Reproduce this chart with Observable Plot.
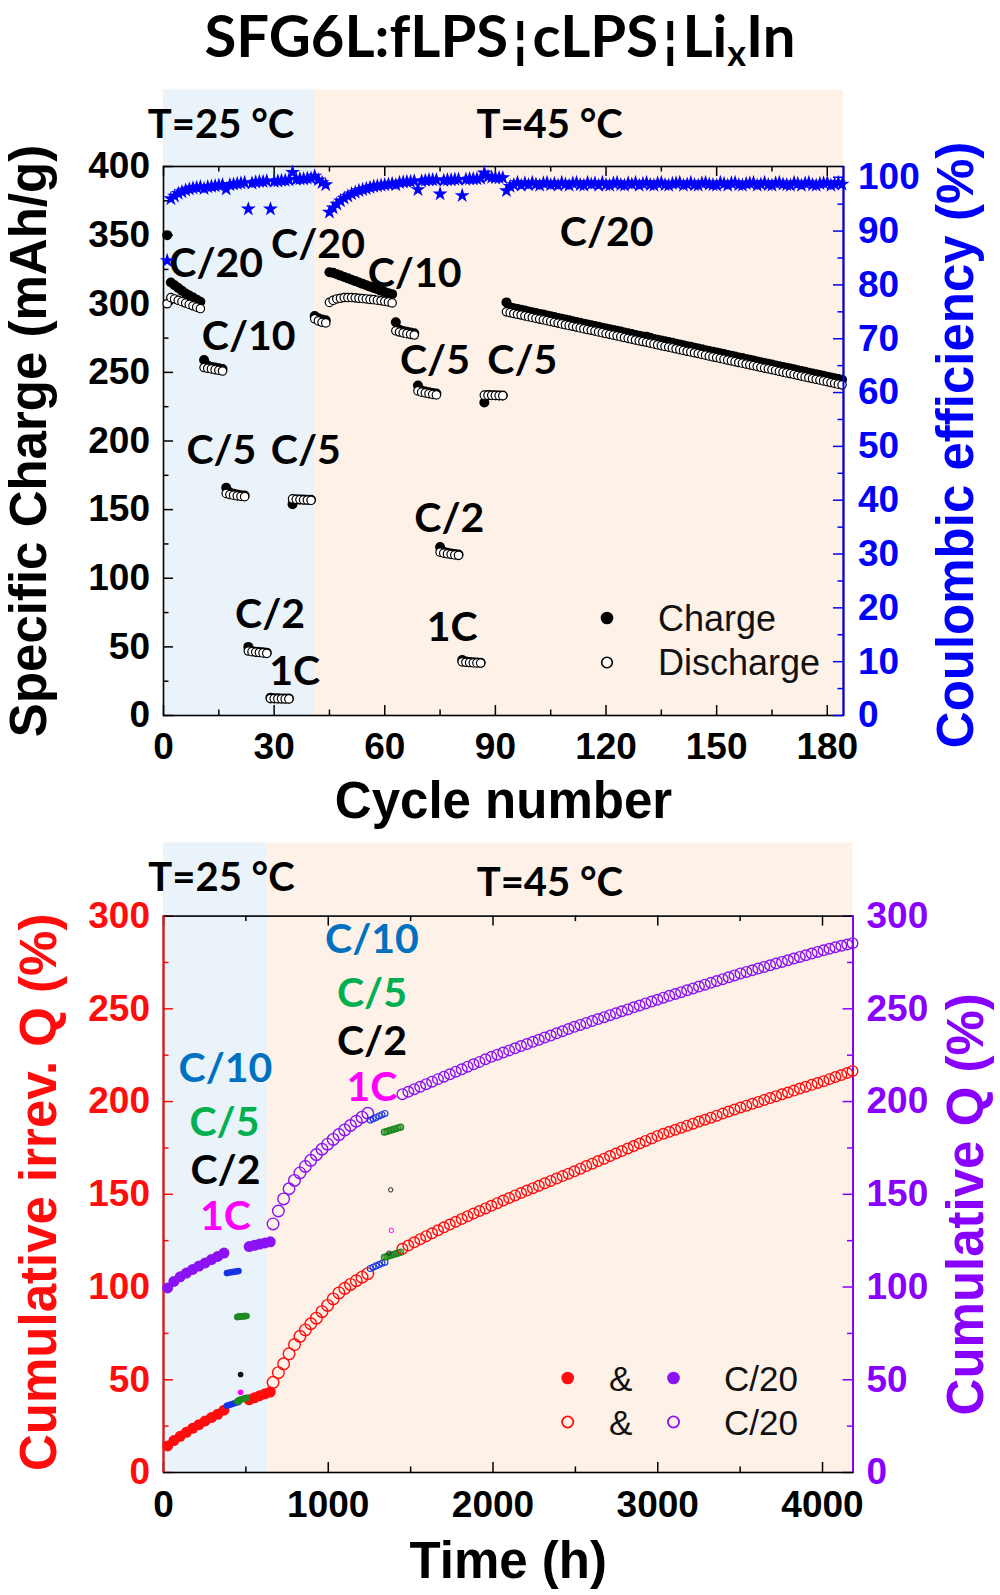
<!DOCTYPE html>
<html>
<head>
<meta charset="utf-8">
<script src="https://cdn.jsdelivr.net/npm/d3@7"></script>
<script src="https://cdn.jsdelivr.net/npm/@observablehq/plot@0.6"></script>
<style>
  html, body { margin: 0; padding: 0; background: #ffffff; }
  #page { position: relative; width: 1000px; height: 1595px; overflow: hidden; }
  #page svg { position: absolute; left: 0; top: 0; }
  .title {
    position: absolute; left: 0; top: 0; width: 1000px; text-align: center;
    font-family: Lato, "Open Sans", sans-serif; font-weight: bold; font-size: 58px; line-height: normal;
    color: #000;
  }
  .title .bar { font-family: "DejaVu Sans", sans-serif; font-weight: bold; font-size: 0.9em; margin: 0 0.05em; }
  .title sub { font-size: 0.62em; vertical-align: -0.24em; line-height: 0; }
</style>
</head>
<body>
<div id="page">
  <div class="title">SFG6L:fLPS<span class="bar">¦</span>cLPS<span class="bar">¦</span>Li<sub>x</sub>In</div>
</div>
<script>
// ---------------------------------------------------------------------------
// Upper panel: specific charge / discharge capacity and coulombic efficiency
// per cycle (cycle n is element n-1).
// ---------------------------------------------------------------------------
const chargeCapacity = [
  // C/20, 25 °C
  350, 315.5, 313.5, 311.5, 309.5, 307.5, 306, 304.5, 303, 301.5,
  // C/10
  259, 255, 254, 253.5, 253, 252.5,
  // C/5
  166, 162.5, 161.5, 161, 160.5, 160.3,
  // C/2
  50, 47, 46.5, 46.2, 46, 45.8,
  // 1C
  13, 12.6, 12.5, 12.4, 12.3, 12.3,
  // C/5
  154, 157.4, 157.4, 157.3, 157.2, 157.2,
  // C/20, 45 °C
  291, 289.5, 288.5, 288,
  323, 322.5, 321.5, 320.5, 319.5, 318.5, 317.5, 316.5, 315.5, 314.5,
  313.5, 312.5, 311.5, 310.5, 309.5, 308.5, 307.7, 307,
  // C/10
  286.5, 281, 280.2, 279.6, 279, 278.5,
  // C/5
  240.5, 236.8, 236, 235.5, 235, 234.6,
  // C/2
  122.7, 119.3, 118.6, 118.1, 117.7, 117.3,
  // 1C
  40.5, 39.3, 39, 38.8, 38.6, 38.5,
  // C/5
  228, 233.5, 233.4, 233.3, 233.2, 233.1,
  // C/20 long-term
  301.0, 297.4, 296.7, 296.1, 295.6, 295.0, 294.4, 293.8, 293.2, 292.6,
  292.1, 291.5, 290.9, 290.3, 289.7, 289.1, 288.5, 287.9, 287.3, 286.7,
  286.1, 285.5, 284.9, 284.4, 283.8, 283.2, 282.6, 282.0, 281.4, 280.8,
  280.3, 279.7, 279.1, 278.5, 277.9, 277.3, 276.7, 276.2, 275.9, 275.2,
  274.4, 273.8, 273.2, 272.6, 272.1, 271.5, 270.9, 270.3, 269.7, 269.1,
  268.6, 268.0, 267.4, 266.8, 266.2, 265.6, 265.0, 264.5, 263.9, 263.3,
  262.7, 262.1, 261.5, 260.9, 260.4, 259.8, 259.2, 258.6, 258.0, 257.4,
  256.8, 256.3, 255.7, 255.1, 254.5, 253.9, 253.3, 252.8, 252.2, 251.6,
  251.0, 250.4, 249.8, 249.2, 248.7, 248.1, 247.5, 246.9, 246.3, 245.7,
  245.1, 244.6
];

const dischargeCapacity = [
  300, 304.5, 303.5, 302.5, 301.5, 300.5, 299.5, 298.5, 297.5, 296.5,
  253.5, 253, 252.5, 252, 251.5, 251,
  161.8, 161, 160.5, 160, 159.7, 159.4,
  47, 46.5, 46.2, 45.9, 45.6, 45.3,
  12.3, 12.3, 12.2, 12.2, 12.1, 12.1,
  157.8, 157.5, 157.3, 157.1, 157, 156.8,
  289, 287.5, 286.5, 286,
  301, 302.5, 303.5, 304, 304.5, 304.5, 304.5, 304.3, 304, 303.8,
  303.5, 303.2, 303, 302.6, 302.2, 301.8, 301.3, 300.6,
  280.3, 279.4, 278.8, 278.2, 277.7, 277.2,
  236.5, 235.6, 235, 234.5, 234, 233.6,
  119, 118.3, 117.8, 117.4, 117, 116.7,
  39.1, 38.8, 38.6, 38.4, 38.3, 38.2,
  233.4, 233.4, 233.3, 233.2, 233.1, 233,
  294.1, 293.5, 292.9, 292.3, 291.8, 291.2, 290.6, 290.0, 289.4, 288.8,
  288.3, 287.7, 287.1, 286.5, 285.9, 285.3, 284.7, 284.2, 283.6, 283.0,
  282.4, 281.8, 281.2, 280.7, 280.1, 279.5, 278.9, 278.3, 277.7, 277.1,
  276.6, 276.0, 275.4, 274.8, 274.2, 273.6, 273.0, 272.5, 271.9, 271.3,
  270.7, 270.1, 269.5, 268.9, 268.4, 267.8, 267.2, 266.6, 266.0, 265.4,
  264.9, 264.3, 263.7, 263.1, 262.5, 261.9, 261.3, 260.8, 260.2, 259.6,
  259.0, 258.4, 257.8, 257.2, 256.7, 256.1, 255.5, 254.9, 254.3, 253.7,
  253.1, 252.6, 252.0, 251.4, 250.8, 250.2, 249.6, 249.1, 248.5, 247.9,
  247.3, 246.7, 246.1, 245.5, 245.0, 244.4, 243.8, 243.2, 242.6, 242.0,
  241.4, 240.9
];

const coulombicEfficiency = [
  84.5, 96.0, 96.5, 97.0, 97.3, 97.6, 97.8, 98.0, 98.1, 98.2,
  97.9, 98.2, 98.3, 98.4, 98.5, 98.6,
  97.8, 98.6, 98.7, 98.8, 98.9, 99.0,
  94.1, 98.9, 99.1, 99.2, 99.2, 99.3,
  94.1, 99.2, 99.3, 99.4, 99.4, 99.5,
  100.9, 99.6, 99.7, 99.7, 99.8, 99.8,
  100.2, 99.5, 99.0, 98.6,
  93.5, 94.3, 95.0, 95.6, 96.1, 96.5, 96.9, 97.2, 97.5, 97.7,
  97.9, 98.1, 98.3, 98.4, 98.5, 98.6, 98.7, 98.8,
  98.6, 99.0, 99.1, 99.2, 99.2, 99.3,
  97.7, 99.3, 99.4, 99.5, 99.5, 99.5,
  96.9, 99.4, 99.5, 99.5, 99.6, 99.6,
  96.6, 99.6, 99.7, 99.7, 99.7, 99.8,
  100.8, 100.1, 100.0, 99.9, 99.9, 99.9,
  97.5,
  98.3, 98.6, 99.0, 98.5, 98.9, 98.6, 99.0, 98.7, 98.5, 98.9,
  99.0, 98.6, 98.8, 98.5, 99.0, 98.7, 98.5, 98.9, 99.0, 98.6,
  98.5, 99.0, 98.7, 98.9, 98.5, 99.0, 98.6, 98.5, 98.9, 99.0,
  98.6, 98.5, 98.9, 98.7, 99.0, 98.5, 98.8, 99.0, 98.6, 98.5,
  98.9, 99.0, 98.6, 98.5, 98.8, 98.9, 99.0, 98.5, 98.7, 99.0,
  98.6, 98.5, 98.9, 99.0, 98.7, 98.6, 98.5, 99.0, 98.8, 98.5,
  98.9, 99.0, 98.6, 98.5, 98.8, 98.9, 99.0, 98.5, 98.7, 99.0,
  98.6, 98.5, 98.9, 99.0, 98.7, 98.6, 98.5, 99.0, 98.8, 98.5,
  98.9, 99.0, 98.6, 98.5, 98.8, 98.9, 99.0, 98.5, 98.7, 99.0,
  98.7
];

const cycleDomain = [0, 184.4];
const capacityDomain = [0, 400];
const efficiencyDomain = [0, 102];
const cycleSwitchTo45 = 41;          // first cycle at 45 °C
const cycleTicks = [0, 30, 60, 90, 120, 150, 180];
const cycleMinorTicks = [15, 45, 75, 105, 135, 165];
const capacityTicks = [0, 50, 100, 150, 200, 250, 300, 350, 400];
const capacityMinorTicks = [25, 75, 125, 175, 225, 275, 325, 375];
const efficiencyTicks = [0, 10, 20, 30, 40, 50, 60, 70, 80, 90, 100];
const efficiencyMinorTicks = [5, 15, 25, 35, 45, 55, 65, 75, 85, 95];

// ---------------------------------------------------------------------------
// Lower panel: cumulative irreversible charge and cumulative charge vs time.
// Filled markers 25 °C, open markers 45 °C, colour = C-rate.
// ---------------------------------------------------------------------------
// 25 °C
const time25C20 = [25, 63, 101, 139, 177, 215, 253, 291, 329, 367, 520, 552, 584, 616, 648];
const irrev25C20 = [14.3, 17.2, 19.5, 21.7, 23.8, 25.8, 27.8, 29.6, 31.4, 33.6, 39.2, 40.3, 41.4, 42.4, 43.4];
const cum25C20 = [99.5, 103, 105.5, 107.5, 109.5, 111.3, 113, 114.8, 116.5, 118.3, 121.8, 122.5, 123.2, 123.8, 124.4];
const time25C10 = [385, 399, 413, 427, 441, 455];
const irrev25C10 = [36, 36.4, 36.8, 37.2, 37.6, 38];
const cum25C10 = [107.5, 107.8, 108, 108.2, 108.4, 108.6];
const time25C5 = [448, 452, 456, 460, 464, 468, 474, 480, 486, 492, 498, 504];
const irrev25C5 = [38.3, 38.5, 38.7, 38.9, 39.1, 39.3, 39.4, 39.6, 39.8, 40, 40.2, 40.3];
const cum25C5 = [83.8, 83.9, 84, 84, 84.1, 84.1, 84.2, 84.2, 84.3, 84.3, 84.4, 84.4];
const time25C2 = [468];
const value25C2 = [52.8];
const time25C1 = [468];
const value25C1 = [43.3];

// 45 °C
const time45C20a = [665, 697, 729, 762, 795, 828, 861, 894, 928, 962, 996, 1030, 1065, 1100, 1135, 1170, 1205, 1240];
const irrev45C20a = [48.6, 53.8, 58.6, 64, 69, 73.4, 76.9, 80.2, 83.2, 86.7, 90.1, 93.6, 96.8, 99.3, 101.4, 103.4, 105.3, 107.2];
const cum45C20a = [134, 141, 147.5, 153, 157.5, 161.5, 165, 168.3, 171.4, 174.3, 177, 179.6, 182.2, 184.7, 187.1, 189.4, 191.6, 193.7];
const time45C10 = [1255, 1272, 1290, 1308, 1326, 1344];
const irrev45C10 = [110, 110.7, 111.4, 112.1, 112.8, 113.4];
const cum45C10 = [190, 190.7, 191.4, 192.2, 192.9, 193.6];
const time45C5 = [1340, 1349, 1358, 1367, 1376, 1385, 1395, 1404, 1413, 1422, 1431, 1440];
const irrev45C5 = [116, 116.3, 116.5, 116.8, 117, 117.3, 117.5, 117.8, 118, 118.3, 118.5, 118.8];
const cum45C5 = [183.5, 183.7, 184, 184.2, 184.5, 184.7, 185, 185.2, 185.5, 185.7, 186, 186.2];
const time45C2 = [1379, 1368];
const value45C2 = [152.4, 118.3];
const time45C1 = [1383];
const value45C1 = [130.5];
const time45C20b = [
  1450, 1486, 1522, 1558, 1594, 1630, 1666, 1702, 1738, 1774, 1810, 1846, 1882, 1918, 1954, 1990,
  2026, 2062, 2098, 2134, 2170, 2206, 2242, 2278, 2314, 2350, 2386, 2422, 2458, 2494, 2530, 2566,
  2602, 2638, 2674, 2710, 2746, 2782, 2818, 2854, 2890, 2926, 2962, 2998, 3034, 3070, 3106, 3142,
  3178, 3214, 3250, 3286, 3322, 3358, 3394, 3430, 3466, 3502, 3538, 3574, 3610, 3646, 3682, 3718,
  3754, 3790, 3826, 3862, 3898, 3934, 3970, 4006, 4042, 4078, 4114, 4150, 4182
];
const irrev45C20b = [
  120.6, 122.4, 124.1, 125.8, 127.4, 129.0, 130.6, 132.2, 133.7, 135.2, 136.7, 138.2, 139.6, 141.0, 142.4, 143.8,
  145.2, 146.6, 148.0, 149.4, 150.7, 152.0, 153.3, 154.6, 155.9, 157.2, 158.5, 159.8, 161.1, 162.4, 163.8, 165.2,
  166.5, 167.9, 169.2, 170.6, 172.0, 173.3, 174.7, 176.0, 177.4, 178.8, 180.1, 181.5, 182.6, 183.7, 184.8, 185.9,
  187.0, 188.1, 189.2, 190.2, 191.3, 192.4, 193.5, 194.6, 195.7, 196.8, 197.8, 198.8, 199.8, 200.9, 201.9, 202.9,
  203.9, 204.9, 205.9, 207.0, 208.0, 209.0, 210.0, 211.0, 212.1, 213.2, 214.3, 215.4, 216.5
];
const cum45C20b = [
  204.0, 205.3, 206.7, 208.0, 209.4, 210.7, 212.1, 213.4, 214.7, 216.1, 217.4, 218.8, 220.1, 221.4, 222.8, 224.1,
  225.3, 226.4, 227.6, 228.7, 229.9, 231.0, 232.2, 233.3, 234.5, 235.6, 236.8, 237.9, 239.1, 240.3, 241.3, 242.4,
  243.4, 244.5, 245.5, 246.6, 247.6, 248.7, 249.7, 250.8, 251.8, 252.9, 253.9, 254.9, 256.0, 257.0, 258.0, 259.0,
  260.0, 261.0, 262.0, 263.0, 264.0, 265.0, 266.0, 267.0, 268.0, 269.1, 269.9, 270.8, 271.7, 272.6, 273.5, 274.4,
  275.3, 276.2, 277.1, 278.0, 278.9, 279.8, 280.7, 281.6, 282.4, 283.2, 284.0, 284.7, 285.4
];

const timeDomain = [0, 4185];
const percentDomain = [0, 300];
const timeSwitchTo45 = 629;          // h, end of the 25 °C period
const timeTicks = [0, 1000, 2000, 3000, 4000];
const timeMinorTicks = [500, 1500, 2500, 3500];
const percentTicks = [0, 50, 100, 150, 200, 250, 300];
const percentMinorTicks = [25, 75, 125, 175, 225, 275];

// ---------------------------------------------------------------------------
// Drawing
// ---------------------------------------------------------------------------
const page = document.getElementById("page");
const NUM_FONT = "'Liberation Sans', Arial, sans-serif";
const NOTE_FONT = "Lato, 'Open Sans', sans-serif";
const BLUE_BAND = "#EBF3FA";
const PEACH_BAND = "#FDF1E8";
const CE_BLUE = "#0000FF";
const RED = "#FF0D0D";
const PURPLE = "#8B12F2";
const PURPLE_AXIS = "#8A00FF";
const RATE_BLUE = "#1534E4";
const RATE_GREEN = "#1F8A22";
const MAGENTA = "#FF00FF";

function layer(options) {
  const svg = Plot.plot({
    width: 1000,
    height: 1595,
    style: {background: "transparent", overflow: "visible"},
    ...options
  });
  page.appendChild(svg);
  return svg;
}

const zip = (xs, ys) => xs.map((x, i) => ({x, y: ys[i]}));
const plain = d => String(d);

// Frame geometry (px)
const TOP = {left: 163, right: 843, top: 166, bottom: 715, bandTop: 89.5};
const BOT = {left: 163, right: 852.5, top: 915.6, bottom: 1472, bandTop: 842.3};
const topW = TOP.right - TOP.left, topH = TOP.bottom - TOP.top;
const botW = BOT.right - BOT.left, botH = BOT.bottom - BOT.top;
const topMargins = {marginLeft: TOP.left, marginRight: 1000 - TOP.right, marginTop: TOP.top, marginBottom: 1595 - TOP.bottom};
const botMargins = {marginLeft: BOT.left, marginRight: 1000 - BOT.right, marginTop: BOT.top, marginBottom: 1595 - BOT.bottom};

// inward ticks on the bottom, top and left sides of a frame
function frameTicks({xMajor, xMinor, yMajor, yMinor, w, h, major = 10, minor = 5.5, leftStroke = "black"}) {
  const sw = 1.5;
  return [
    Plot.tickX(xMajor, {x: d => d, insetTop: h - major, stroke: "black", strokeWidth: sw}),
    Plot.tickX(xMinor, {x: d => d, insetTop: h - minor, stroke: "black", strokeWidth: sw}),
    Plot.tickX(xMajor, {x: d => d, insetBottom: h - major, stroke: "black", strokeWidth: sw}),
    Plot.tickX(xMinor, {x: d => d, insetBottom: h - minor, stroke: "black", strokeWidth: sw}),
    Plot.tickY(yMajor, {y: d => d, insetRight: w - major, stroke: leftStroke, strokeWidth: sw}),
    Plot.tickY(yMinor, {y: d => d, insetRight: w - minor, stroke: leftStroke, strokeWidth: sw})
  ];
}

const noteStyle = {fontFamily: NOTE_FONT, fontWeight: "bold", fontSize: 41};
const tickTextStyle = {fontFamily: NUM_FONT, fontWeight: "bold", fontSize: 37, tickSize: 0, label: null, tickFormat: plain};
const axisTitleStyle = {fontFamily: NUM_FONT, fontWeight: "bold", fontSize: 51, textAnchor: "middle", lineAnchor: "middle"};
const bandLabelStyle = {...noteStyle, fontSize: 40, textAnchor: "middle", lineAnchor: "middle"};

// ---- Upper panel: temperature bands ----
layer({
  marginLeft: TOP.left, marginRight: 1000 - TOP.right, marginTop: TOP.bandTop, marginBottom: 1595 - TOP.bottom,
  x: {domain: cycleDomain, axis: null},
  marks: [
    Plot.rect([{a: cycleDomain[0], b: cycleSwitchTo45}], {x1: "a", x2: "b", fill: BLUE_BAND}),
    Plot.rect([{a: cycleSwitchTo45, b: cycleDomain[1]}], {x1: "a", x2: "b", fill: PEACH_BAND}),
    Plot.text(["T=25 °C"], {x: () => 15.6, frameAnchor: "top", dy: 35.5, text: d => d, ...bandLabelStyle}),
    Plot.text(["T=45 °C"], {x: () => 104.7, frameAnchor: "top", dy: 35.5, text: d => d, ...bandLabelStyle})
  ]
});

// ---- Upper panel: capacity ----
const chargeRows = chargeCapacity.map((v, i) => ({cycle: i + 1, value: v}));
const dischargeRows = dischargeCapacity.map((v, i) => ({cycle: i + 1, value: v}));
const topNotes = [
  {t: "C/20", x: 14.3, y: 329}, {t: "C/10", x: 23.1, y: 276}, {t: "C/5", x: 15.7, y: 192.5},
  {t: "C/5", x: 38.6, y: 192.5}, {t: "C/2", x: 28.9, y: 73}, {t: "1C", x: 35.6, y: 32},
  {t: "C/20", x: 41.9, y: 343}, {t: "C/10", x: 68.1, y: 322}, {t: "C/5", x: 73.6, y: 258.5},
  {t: "C/5", x: 97.3, y: 258.5}, {t: "C/2", x: 77.5, y: 143}, {t: "1C", x: 78.3, y: 63.7},
  {t: "C/20", x: 120.2, y: 352}
];

layer({
  ...topMargins,
  x: {domain: cycleDomain},
  y: {domain: capacityDomain},
  marks: [
    ...frameTicks({xMajor: cycleTicks, xMinor: cycleMinorTicks, yMajor: capacityTicks, yMinor: capacityMinorTicks, w: topW, h: topH}),
    Plot.axisX({ticks: cycleTicks, tickPadding: 17, ...tickTextStyle}),
    Plot.axisY({ticks: capacityTicks, tickPadding: 13.5, ...tickTextStyle}),
    Plot.frame({stroke: "black", strokeWidth: 1.6}),
    Plot.dot(chargeRows, {x: "cycle", y: "value", r: 5, fill: "black", stroke: "none"}),
    Plot.dot(dischargeRows, {x: "cycle", y: "value", r: 4.2, fill: "white", stroke: "black", strokeWidth: 1.2}),
    Plot.text(topNotes, {x: "x", y: "y", text: "t", ...noteStyle}),
    Plot.text(["Specific Charge (mAh/g)"], {frameAnchor: "left", dx: -134, rotate: -90, text: d => d, ...axisTitleStyle}),
    Plot.text(["Cycle number"], {frameAnchor: "bottom", dy: 86.5, text: d => d, ...axisTitleStyle})
  ]
});

// ---- Upper panel: coulombic efficiency (right axis) ----
const ceRows = coulombicEfficiency.map((v, i) => ({cycle: i + 1, value: v}));
layer({
  ...topMargins,
  x: {domain: cycleDomain, axis: null},
  y: {domain: efficiencyDomain},
  marks: [
    Plot.tickY(efficiencyTicks, {y: d => d, insetLeft: topW - 10, stroke: CE_BLUE, strokeWidth: 1.5}),
    Plot.tickY(efficiencyMinorTicks, {y: d => d, insetLeft: topW - 5.5, stroke: CE_BLUE, strokeWidth: 1.5}),
    Plot.ruleX([cycleDomain[1]], {stroke: CE_BLUE, strokeWidth: 2}),
    Plot.axisY({anchor: "right", ticks: efficiencyTicks, tickPadding: 14.5, fill: CE_BLUE, ...tickTextStyle}),
    Plot.dot(ceRows, {x: "cycle", y: "value", symbol: "star", r: 4.7, fill: CE_BLUE, stroke: "none"}),
    Plot.text(["Coulombic efficiency (%)"], {frameAnchor: "right", dx: 113, dy: 4, rotate: -90, text: d => d, fill: CE_BLUE, ...axisTitleStyle})
  ]
});

// ---- Lower panel: temperature bands ----
layer({
  marginLeft: BOT.left, marginRight: 1000 - BOT.right, marginTop: BOT.bandTop, marginBottom: 1595 - BOT.bottom,
  x: {domain: timeDomain, axis: null},
  marks: [
    Plot.rect([{a: timeDomain[0], b: timeSwitchTo45}], {x1: "a", x2: "b", fill: BLUE_BAND}),
    Plot.rect([{a: timeSwitchTo45, b: timeDomain[1]}], {x1: "a", x2: "b", fill: PEACH_BAND}),
    Plot.text(["T=25 °C"], {x: () => 352, frameAnchor: "top", dy: 35.7, text: d => d, ...bandLabelStyle}),
    Plot.text(["T=45 °C"], {x: () => 2345, frameAnchor: "top", dy: 40.7, text: d => d, ...bandLabelStyle})
  ]
});

// ---- Lower panel: cumulative charge ----
const botNotes = [
  {t: "C/10", x: 376, y: 217.7, c: "#0070C0"},
  {t: "C/5", x: 370, y: 188.5, c: "#00B050"},
  {t: "C/2", x: 376, y: 162.5, c: "#000000"},
  {t: "1C", x: 376, y: 138, c: MAGENTA},
  {t: "C/10", x: 1265, y: 287, c: "#0070C0"},
  {t: "C/5", x: 1265, y: 258, c: "#00B050"},
  {t: "C/2", x: 1265, y: 232, c: "#000000"},
  {t: "1C", x: 1265, y: 207.3, c: MAGENTA}
];

const filled = (t, v, color, r) => Plot.dot(zip(t, v), {x: "x", y: "y", r, fill: color, stroke: "none"});
const open = (t, v, color, r, sw = 1.4) => Plot.dot(zip(t, v), {x: "x", y: "y", r, fill: "none", stroke: color, strokeWidth: sw});

layer({
  ...botMargins,
  x: {domain: timeDomain},
  y: {domain: percentDomain},
  marks: [
    ...frameTicks({xMajor: timeTicks, xMinor: timeMinorTicks, yMajor: percentTicks, yMinor: percentMinorTicks, w: botW, h: botH, leftStroke: RED}),
    Plot.tickY(percentTicks, {y: d => d, insetLeft: botW - 10, stroke: PURPLE_AXIS, strokeWidth: 1.5}),
    Plot.tickY(percentMinorTicks, {y: d => d, insetLeft: botW - 5.5, stroke: PURPLE_AXIS, strokeWidth: 1.5}),
    Plot.axisX({ticks: timeTicks, tickPadding: 18, ...tickTextStyle}),
    Plot.axisY({anchor: "left", ticks: percentTicks, tickPadding: 13.5, fill: RED, ...tickTextStyle}),
    Plot.axisY({anchor: "right", ticks: percentTicks, tickPadding: 13.5, fill: PURPLE_AXIS, ...tickTextStyle}),
    Plot.frame({stroke: "black", strokeWidth: 1.6}),
    Plot.ruleX([timeDomain[0]], {stroke: RED, strokeWidth: 2}),
    Plot.ruleX([timeDomain[1]], {stroke: PURPLE_AXIS, strokeWidth: 2}),

    // 25 °C (filled)
    filled(time25C20, irrev25C20, RED, 5.5),
    filled(time25C20, cum25C20, PURPLE, 5.5),
    filled(time25C10, irrev25C10, RATE_BLUE, 3.3),
    filled(time25C10, cum25C10, RATE_BLUE, 3.3),
    filled(time25C5, irrev25C5, RATE_GREEN, 3.3),
    filled(time25C5, cum25C5, RATE_GREEN, 3.3),
    filled(time25C2, value25C2, "#111111", 2.8),
    filled(time25C1, value25C1, MAGENTA, 2.8),

    // 45 °C (open)
    open(time45C20a, irrev45C20a, RED, 5.8),
    open(time45C20a, cum45C20a, PURPLE, 5.8),
    open(time45C10, irrev45C10, RATE_BLUE, 3, 1.1),
    open(time45C10, cum45C10, RATE_BLUE, 3, 1.1),
    open(time45C5, irrev45C5, RATE_GREEN, 3, 1.1),
    open(time45C5, cum45C5, RATE_GREEN, 3, 1.1),
    open(time45C2, value45C2, "#222222", 2.2, 1),
    open(time45C1, value45C1, MAGENTA, 2.2, 1),
    open(time45C20b, irrev45C20b, RED, 5.3),
    open(time45C20b, cum45C20b, PURPLE, 5.3),

    Plot.text(botNotes, {x: "x", y: "y", text: "t", fill: "c", ...noteStyle}),
    Plot.text(["Cumulative irrev. Q (%)"], {frameAnchor: "left", dx: -124, dy: -2, rotate: -90, text: d => d, fill: RED, ...axisTitleStyle}),
    Plot.text(["Cumulative Q (%)"], {frameAnchor: "right", dx: 114, dy: 10, rotate: -90, text: d => d, fill: PURPLE_AXIS, ...axisTitleStyle}),
    Plot.text(["Time (h)"], {frameAnchor: "bottom", dy: 89.5, text: d => d, ...axisTitleStyle})
  ]
});

// ---- Legends ----
const legend = d3.select(page).append("svg").attr("width", 1000).attr("height", 1595);
const legText = (x, y, s, size = 36) => legend.append("text").attr("x", x).attr("y", y)
  .attr("font-family", "'Liberation Sans', Arial, sans-serif").attr("font-size", size).attr("fill", "#111").text(s);

legend.append("circle").attr("cx", 607).attr("cy", 618).attr("r", 6.3).attr("fill", "black");
legText(658, 631, "Charge");
legend.append("circle").attr("cx", 607).attr("cy", 662.5).attr("r", 5.3).attr("fill", "white").attr("stroke", "black").attr("stroke-width", 1.6);
legText(658, 675, "Discharge");

legend.append("circle").attr("cx", 567.7).attr("cy", 1378).attr("r", 6.3).attr("fill", RED);
legText(609, 1390.5, "&", 35);
legend.append("circle").attr("cx", 673.5).attr("cy", 1378).attr("r", 6.3).attr("fill", PURPLE);
legText(724, 1390.5, "C/20", 35);
legend.append("circle").attr("cx", 567.7).attr("cy", 1422).attr("r", 5.6).attr("fill", "none").attr("stroke", RED).attr("stroke-width", 1.8);
legText(609, 1434.5, "&", 35);
legend.append("circle").attr("cx", 673.5).attr("cy", 1422).attr("r", 5.6).attr("fill", "none").attr("stroke", PURPLE).attr("stroke-width", 1.8);
legText(724, 1434.5, "C/20", 35);
</script>
</body>
</html>
